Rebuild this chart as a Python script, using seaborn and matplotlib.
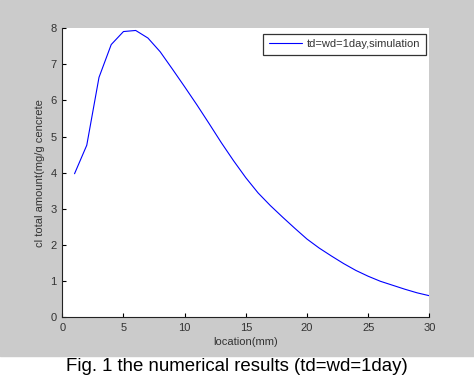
import matplotlib
matplotlib.use("Agg")
import matplotlib.pyplot as plt
import pandas as pd
import seaborn as sns

# values
location_mm = list(range(1, 31))
cl_total = [3.97, 4.76, 6.64, 7.55, 7.91, 7.94, 7.73, 7.35, 6.87, 6.38,
            5.88, 5.36, 4.83, 4.33, 3.86, 3.44, 3.09, 2.77, 2.46, 2.16,
            1.91, 1.69, 1.48, 1.29, 1.13, 0.99, 0.88, 0.77, 0.67, 0.59]
series_label = "td=wd=1day,simulation"
x_ticks = [0, 5, 10, 15, 20, 25, 30]
y_ticks = [0, 1, 2, 3, 4, 5, 6, 7, 8]

sns.set_style("ticks")
plt.rcParams["font.family"] = ["Liberation Sans", "DejaVu Sans"]

gray = "#cbcbcb"
tick_col = "#333333"
fs = 8

fig = plt.figure(figsize=(4.74, 3.77), dpi=100, facecolor="white")
# gray matlab-like panel, white strip for the caption below
fig.patches.append(plt.Rectangle((0, 21 / 377), 1, 1 - 21 / 377,
                                 transform=fig.transFigure, color=gray,
                                 zorder=-10))

ax = fig.add_axes([62.3 / 474, 60 / 377, 367 / 474, 288.7 / 377])
ax.set_zorder(1)
ax.set_facecolor("white")

df = pd.DataFrame({"location": location_mm, "cl": cl_total})
sns.lineplot(data=df, x="location", y="cl", ax=ax, color="#0000ff",
             linewidth=0.8, label=series_label)

ax.set_xlim(0, 30)
ax.set_ylim(0, 8)
ax.set_xticks(x_ticks)
ax.set_yticks(y_ticks)
ax.tick_params(direction="in", length=3, width=0.8, labelsize=fs,
               colors="black", labelcolor=tick_col, pad=4)
for side in ["top", "right"]:
    ax.spines[side].set_visible(False)
for side in ["bottom", "left"]:
    ax.spines[side].set_color("#222222")
    ax.spines[side].set_linewidth(0.8)

ax.set_xlabel("location(mm)", fontsize=fs, color=tick_col, labelpad=3)
ax.set_ylabel("cl total amount(mg/g cencrete", fontsize=fs, color=tick_col,
              labelpad=4)

leg = ax.legend(loc="upper right", bbox_to_anchor=(0.990, 0.981),
                borderaxespad=0, fontsize=fs, frameon=True, fancybox=False,
                handlelength=3.0, handletextpad=0.4, borderpad=0.5)
leg.get_frame().set_edgecolor("black")
leg.get_frame().set_linewidth(0.9)
for t in leg.get_texts():
    t.set_color(tick_col)

fig.text(0.5, 10.5 / 377, "Fig. 1 the numerical results (td=wd=1day)",
         ha="center", va="center", fontsize=13.4, color="black")

fig.savefig("out.png", dpi=100, facecolor=fig.get_facecolor())
